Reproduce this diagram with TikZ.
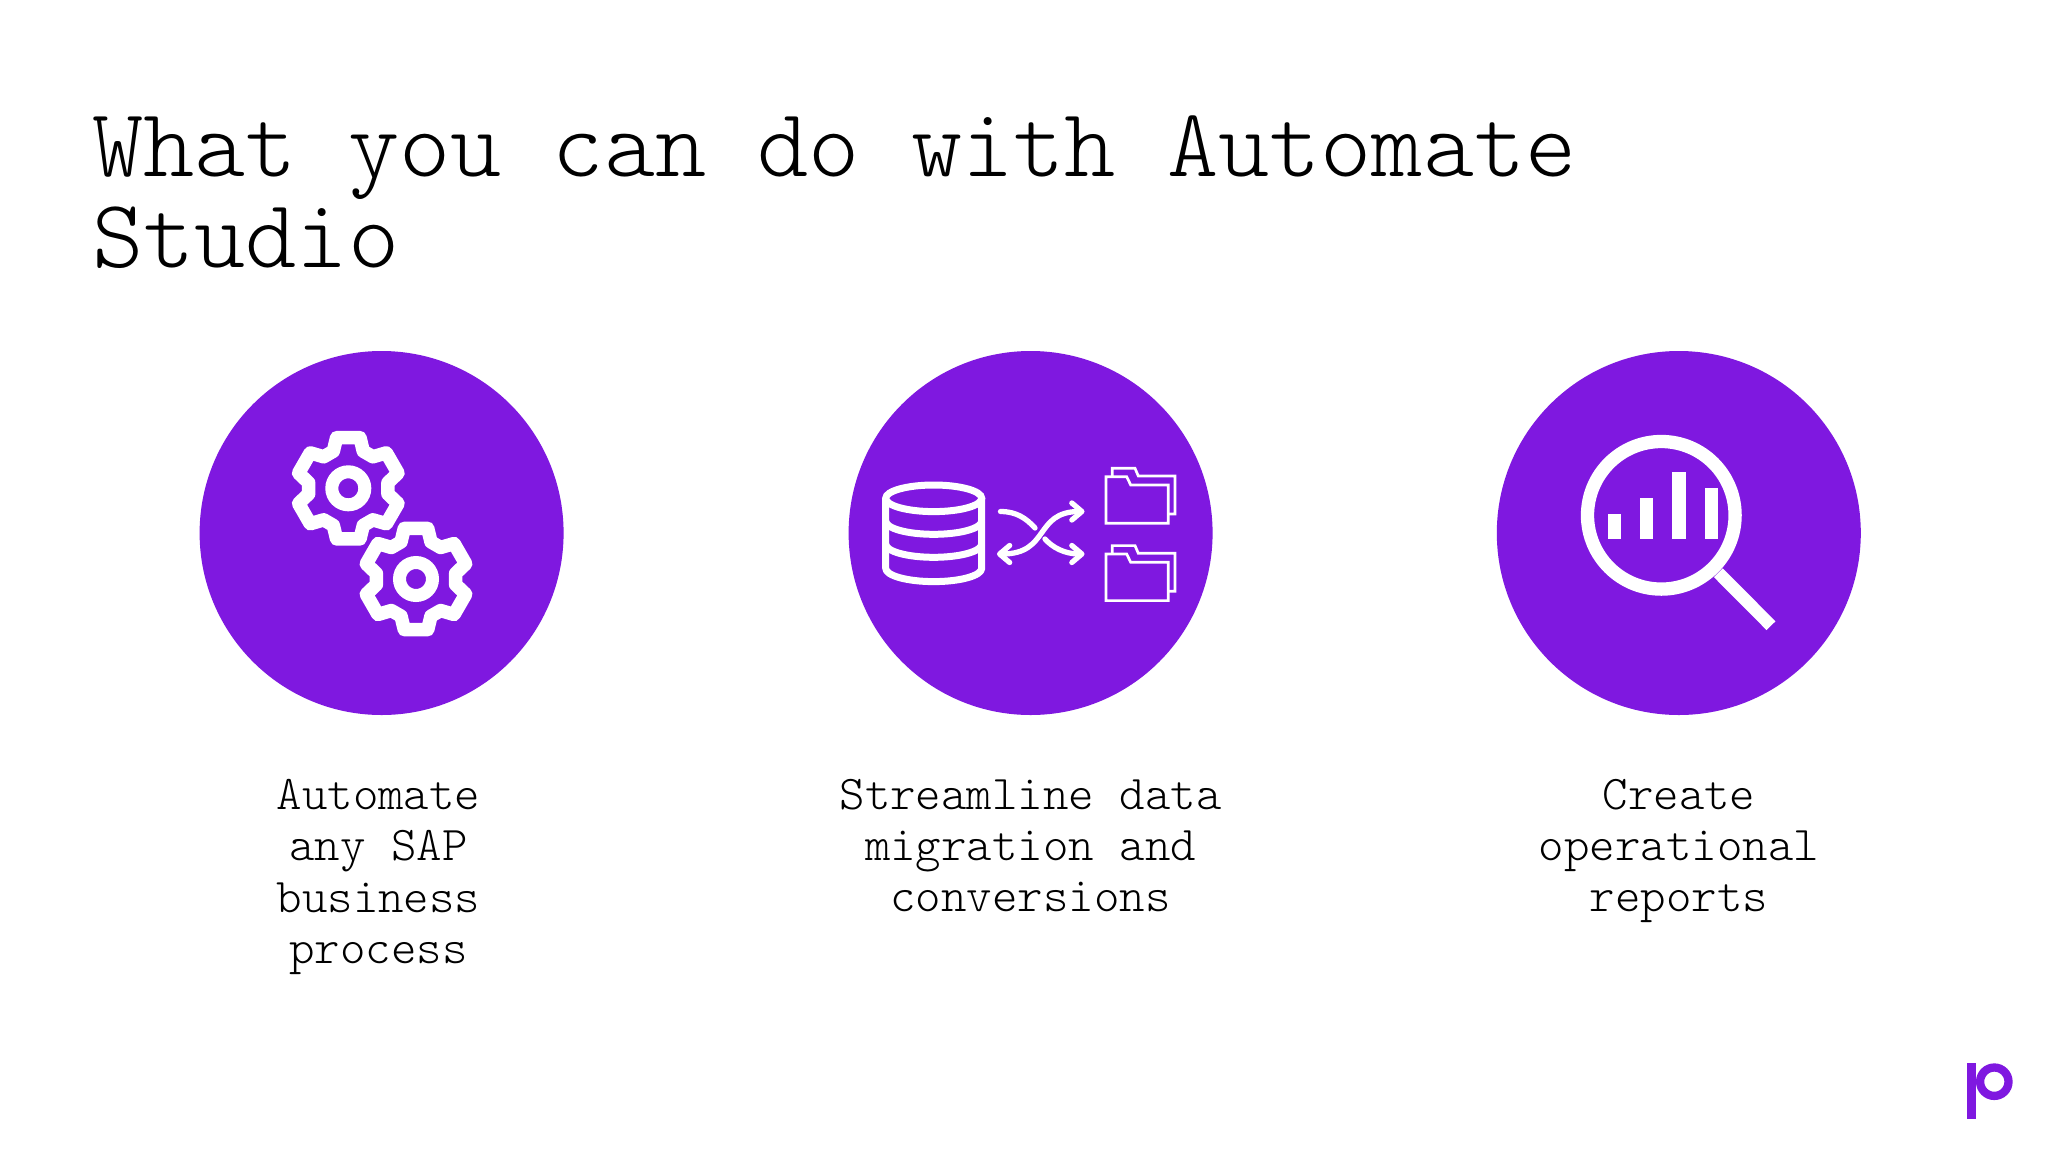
\documentclass[tikz,border=0pt]{standalone}
\usepackage{fontspec}
\setmonofont{Latin Modern Mono Light}
\usetikzlibrary{arrows.meta}
\definecolor{brand}{HTML}{7F18E0}
\tikzset{
	disc/.style={circle, fill=brand, minimum size=364pt, inner sep=0pt},
	heading/.style={anchor=north west, align=left, inner sep=0pt, font=\fontsize{97.5}{91}\selectfont\ttfamily, text=black},
	caption/.style={anchor=north, align=center, inner sep=0pt, font=\fontsize{48.5}{51.3}\selectfont\ttfamily, text=black},
	cross/.style={draw=white, line width=5.3pt, line cap=round},
	barb/.tip={Straight Barb[length=10pt, width=17pt, round]},
	gear/.pic={
		\draw[white, line width=13.5pt, line join=round] (-22+90:40)
			\foreach \a in {90,150,210,270,330,30} {
				-- (\a-22:40) -- (\a-13:52) -- (\a+13:52) -- (\a+22:40)
			} -- cycle;
		\draw[white, line width=13pt] (0,0) circle (16.5);
	},
	folder/.pic={
		\draw[white, line width=2.7pt, line join=miter] (0,0) -- (20.7,0) -- (24.7,8.3) -- (62.3,8.3) -- (62.3,46.6) -- (0,46.6) -- cycle;
		\draw[white, line width=2.7pt, line join=miter] (6.3,0) -- (6.3,-8.4) -- (29,-8.4) -- (32.3,-0.7) -- (69,-0.7) -- (69,37.3) -- (62.3,37.3);
	}
}
\begin{document}
\begin{tikzpicture}[x=1pt, y=-1pt]
	\useasboundingbox (0,0) rectangle (2048,1152);
	\fill[white] (0,0) rectangle (2048,1152);
	\node[heading] (title) at (92,116) {What you can do with Automate\\Studio};
	\node[disc] (automate) at (381.6,533) {};
	\node[disc] (migrate) at (1030.6,533) {};
	\node[disc] (report) at (1678.8,533) {};
	\node[caption] (automatetext) at (378.5,779) {Automate\\any SAP\\business\\process};
	\node[caption] (migratetext) at (1030.5,779) {Streamline data\\migration and\\conversions};
	\node[caption] (reporttext) at (1679,779) {Create\\operational\\reports};
	% gears
	\pic at (348.3,488.3) {gear};
	\pic at (416,579) {gear};
	% base de donnees
	\draw[white, line width=7pt] (933.7,498.3) ellipse (48 and 13.3);
	\draw[white, line width=7pt, line join=round] (885.7,498.3) -- (885.7,568.3) arc[start angle=180, end angle=0, x radius=48, y radius=13.3] -- (981.7,498.3);
	\draw[white, line width=7pt] (885.7,521) arc[start angle=180, end angle=0, x radius=48, y radius=13.3];
	\draw[white, line width=7pt] (885.7,544) arc[start angle=180, end angle=0, x radius=48, y radius=13.3];
	% fleches
	\coordinate (topleft) at (1000.5,511.5);
	\coordinate (topright) at (1084.5,511.5);
	\coordinate (lowleft) at (997,554);
	\coordinate (lowright) at (1084.5,554);
	\coordinate (gapin) at (1035,528);
	\coordinate (gapout) at (1045,539);
	\draw[cross, barb-barb] (lowleft) .. controls (1050,554) and (1034,511.5) .. (topright);
	\draw[cross] (topleft) .. controls (1016,511.5) and (1026,518) .. (gapin);
	\draw[cross, -barb] (gapout) .. controls (1052,547) and (1064,554) .. (lowright);
	% dossiers
	\pic at (1106,476.7) {folder};
	\pic at (1106,554) {folder};
	% loupe
	\draw[white, line width=13.3pt] (1661.3,515.3) circle (73.8);
	\fill[white] (1608,514) rectangle (1621.3,539.3);
	\fill[white] (1640,498) rectangle (1653.3,539.3);
	\fill[white] (1672.3,472) rectangle (1685.6,539.3);
	\fill[white] (1704.7,488.3) rectangle (1718,539.3);
	\draw[white, line width=12.5pt] (1718.3,572.7) -- (1771,625.7);
	% logo
	\fill[brand] (1966.7,1063.3) rectangle (1975.7,1119);
	\draw[brand, line width=8.3pt] (1994.3,1081.7) circle (14.2);
\end{tikzpicture}
\end{document}
